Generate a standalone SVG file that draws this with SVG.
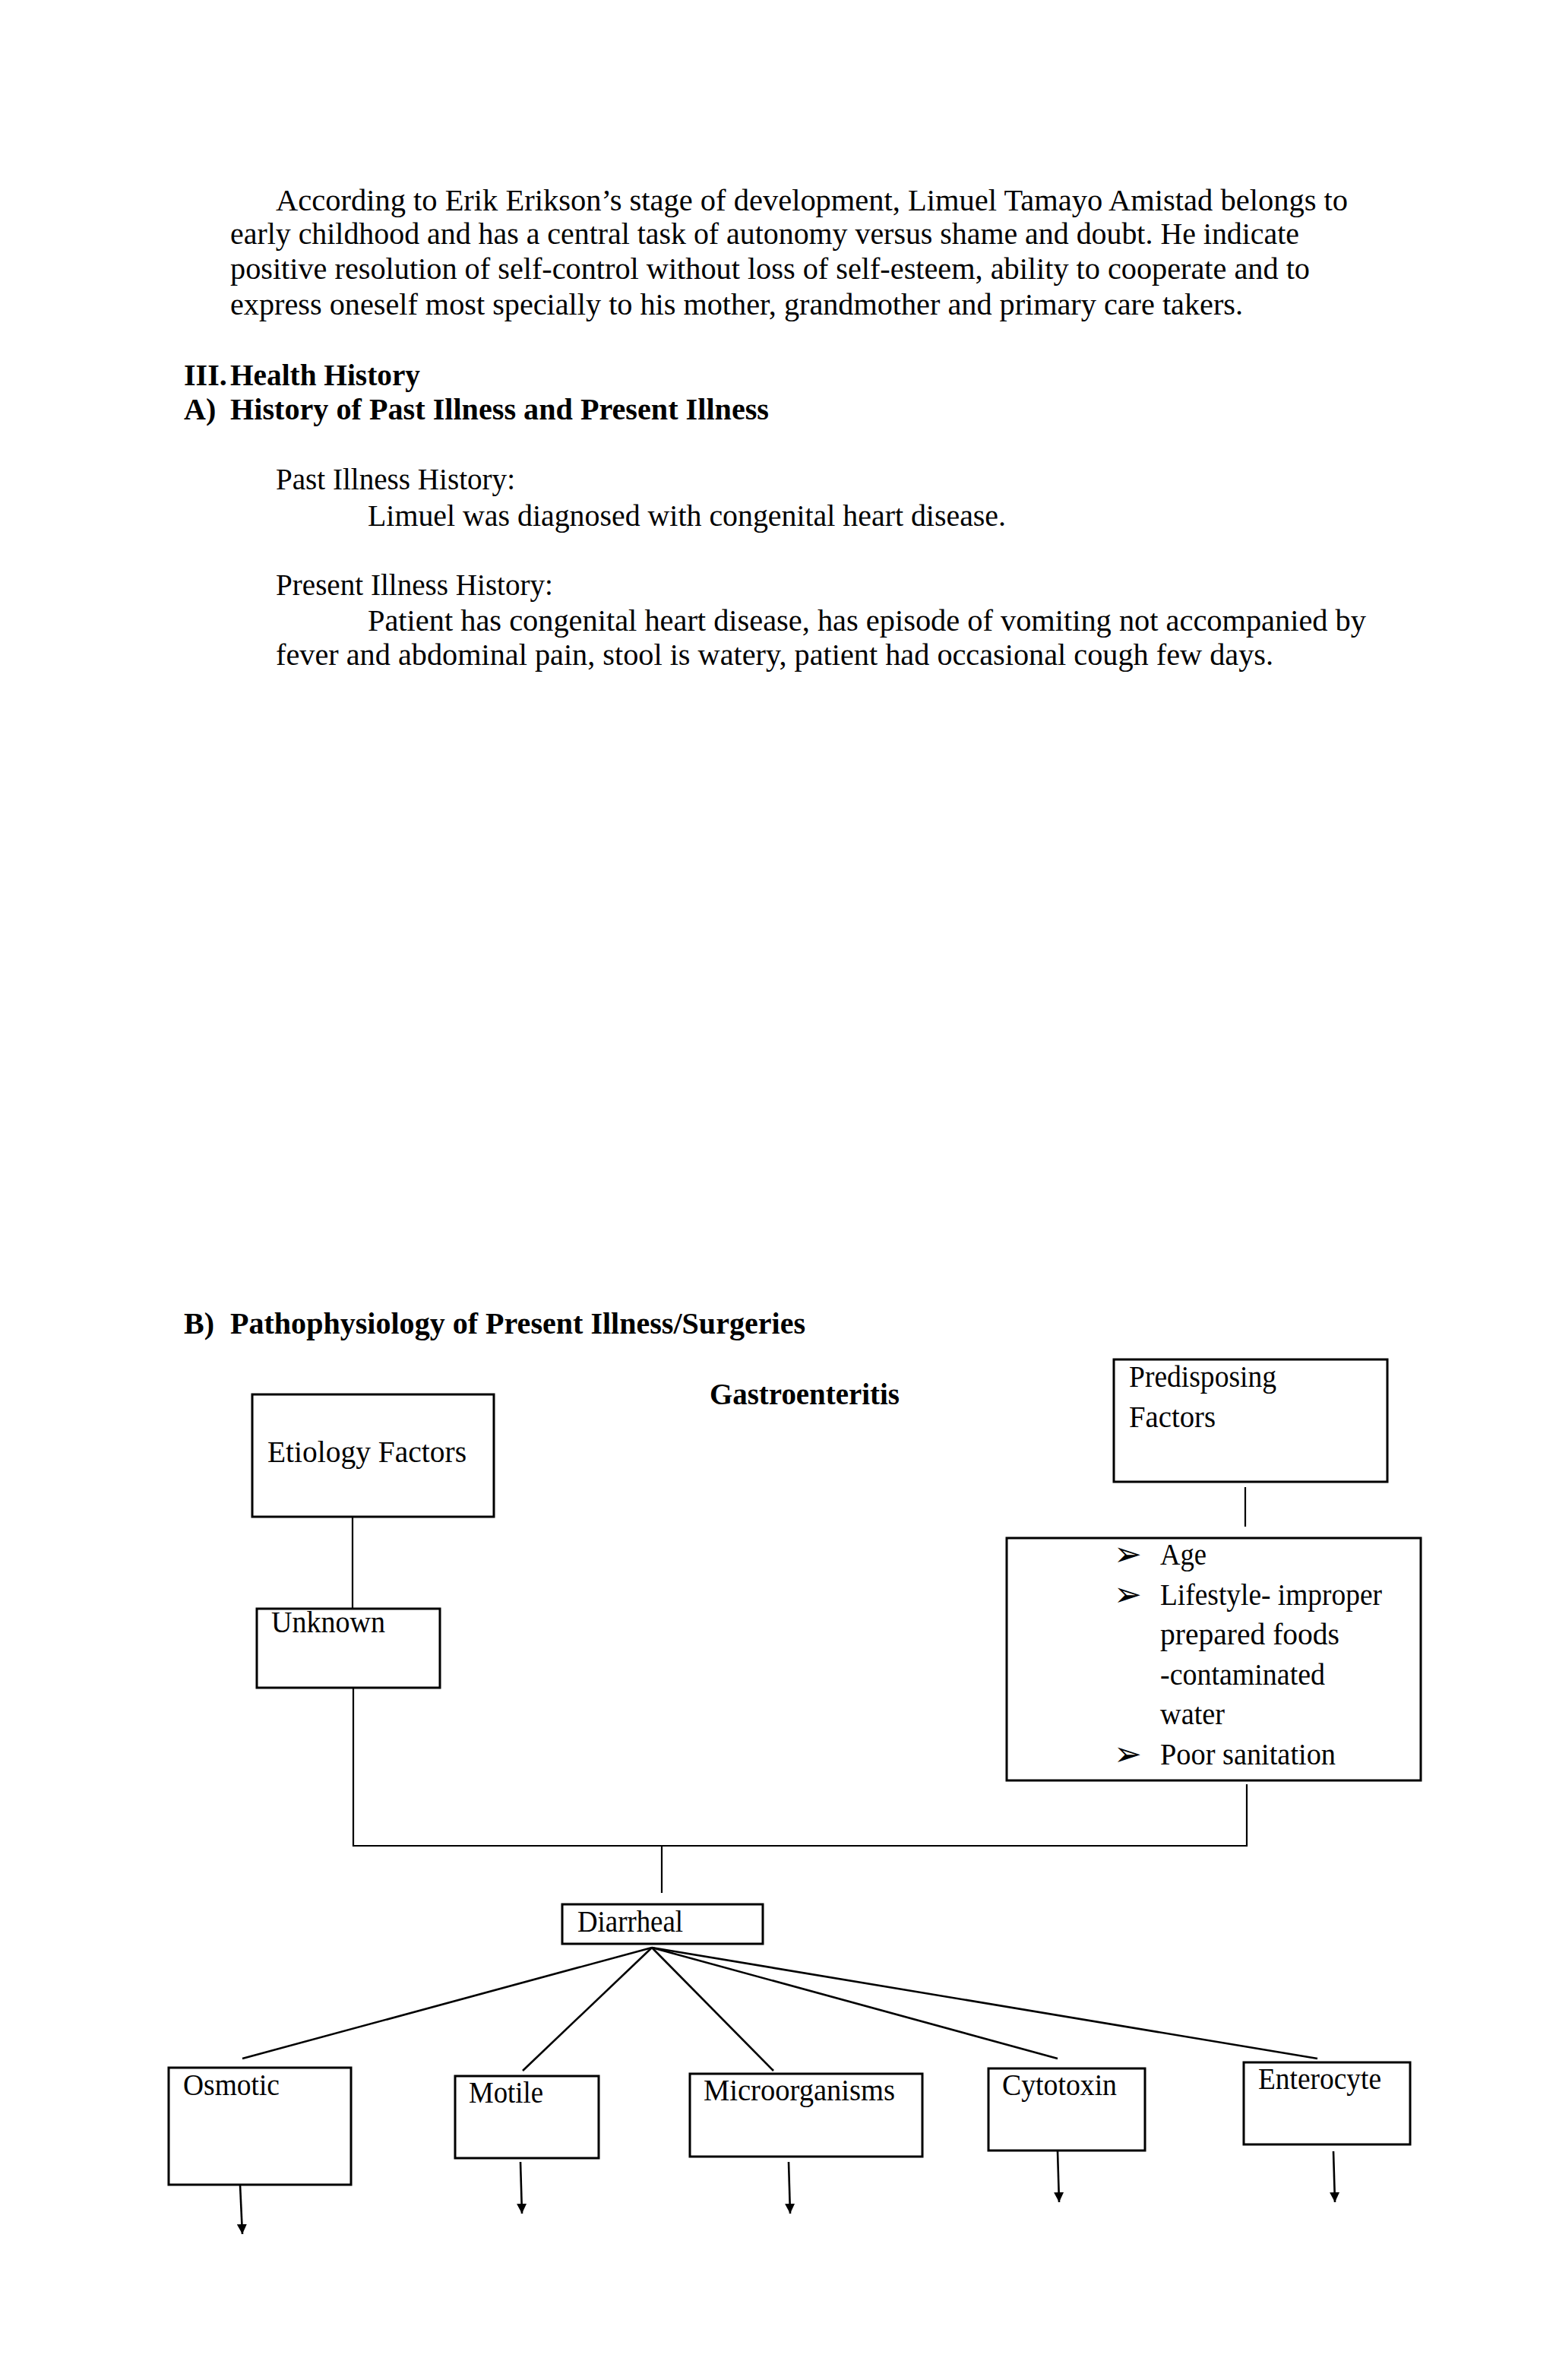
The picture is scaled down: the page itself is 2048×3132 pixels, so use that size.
<svg xmlns="http://www.w3.org/2000/svg" width="2048" height="3132" viewBox="0 0 2048 3132">
<style>
text{font-family:"Liberation Serif","Times New Roman",serif;font-size:40px;fill:#000}
.b{font-weight:bold}
.box{fill:#fff;stroke:#000;stroke-width:3}
.ln{fill:none;stroke:#000;stroke-width:2.2}
.fan{fill:none;stroke:#000;stroke-width:2.6}
.bul{font-family:"DejaVu Sans",sans-serif;font-size:44px}
</style>
<defs>
<marker id="ah" viewBox="0 0 10 10" refX="10" refY="5" markerWidth="13" markerHeight="13" markerUnits="userSpaceOnUse" orient="auto">
<path d="M0 0 L10 5 L0 10 Z" fill="#000"/>
</marker>
</defs>
<rect width="2048" height="3132" fill="#fff"/>

<g id="paragraph">
<text x="363" y="277" textLength="1411" lengthAdjust="spacingAndGlyphs">According to Erik Erikson’s stage of development, Limuel Tamayo Amistad belongs to</text>
<text x="303" y="321" textLength="1407" lengthAdjust="spacingAndGlyphs">early childhood and has a central task of autonomy versus shame and doubt. He indicate</text>
<text x="303" y="367" textLength="1421" lengthAdjust="spacingAndGlyphs">positive resolution of self-control without loss of self-esteem, ability to cooperate and to</text>
<text x="303" y="414" textLength="1333" lengthAdjust="spacingAndGlyphs">express oneself most specially to his mother, grandmother and primary care takers.</text>
</g>

<g id="headings">
<text class="b" x="242" y="507">III.</text>
<text class="b" x="303" y="507" textLength="250" lengthAdjust="spacingAndGlyphs">Health History</text>
<text class="b" x="242" y="552">A)</text>
<text class="b" x="303" y="552" textLength="709" lengthAdjust="spacingAndGlyphs">History of Past Illness and Present Illness</text>
<text x="363" y="644" textLength="315" lengthAdjust="spacingAndGlyphs">Past Illness History:</text>
<text x="484" y="692" textLength="840" lengthAdjust="spacingAndGlyphs">Limuel was diagnosed with congenital heart disease.</text>
<text x="363" y="783" textLength="365" lengthAdjust="spacingAndGlyphs">Present Illness History:</text>
<text x="484" y="830" textLength="1314" lengthAdjust="spacingAndGlyphs">Patient has congenital heart disease, has episode of vomiting not accompanied by</text>
<text x="363" y="875" textLength="1313" lengthAdjust="spacingAndGlyphs">fever and abdominal pain, stool is watery, patient had occasional cough few days.</text>
<text class="b" x="242" y="1755">B)</text>
<text class="b" x="303" y="1755" textLength="757" lengthAdjust="spacingAndGlyphs">Pathophysiology of Present Illness/Surgeries</text>
<text class="b" x="934" y="1848" textLength="250" lengthAdjust="spacingAndGlyphs">Gastroenteritis</text>
</g>

<g id="connectors">
<line class="ln" x1="464" y1="1996" x2="464" y2="2117"/>
<polyline class="ln" points="465,2221 465,2429 1641,2429 1641,2348"/>
<line class="ln" x1="1639" y1="1957" x2="1639" y2="2009"/>
<line class="ln" x1="871" y1="2429" x2="871" y2="2491"/>
<line class="fan" x1="858" y1="2563" x2="319" y2="2709"/>
<line class="fan" x1="858" y1="2563" x2="688" y2="2725"/>
<line class="fan" x1="858" y1="2563" x2="1018" y2="2725"/>
<line class="fan" x1="858" y1="2563" x2="1392" y2="2709"/>
<line class="fan" x1="858" y1="2563" x2="1734" y2="2709"/>
<line class="fan" x1="316" y1="2875" x2="319" y2="2940" marker-end="url(#ah)"/>
<line class="fan" x1="685" y1="2845" x2="687" y2="2913" marker-end="url(#ah)"/>
<line class="fan" x1="1038" y1="2845" x2="1040" y2="2913" marker-end="url(#ah)"/>
<line class="fan" x1="1392" y1="2831" x2="1394" y2="2898" marker-end="url(#ah)"/>
<line class="fan" x1="1755" y1="2831" x2="1757" y2="2898" marker-end="url(#ah)"/>
</g>

<g id="etiology">
<rect class="box" x="332" y="1835" width="318" height="161"/>
<text x="352" y="1924" textLength="262" lengthAdjust="spacingAndGlyphs">Etiology Factors</text>
</g>
<g id="unknown">
<rect class="box" x="338" y="2117" width="241" height="104"/>
<text x="357" y="2148" textLength="150" lengthAdjust="spacingAndGlyphs">Unknown</text>
</g>
<g id="predisposing">
<rect class="box" x="1466" y="1789" width="360" height="161"/>
<text x="1486" y="1825" textLength="194" lengthAdjust="spacingAndGlyphs">Predisposing</text>
<text x="1486" y="1878" textLength="114" lengthAdjust="spacingAndGlyphs">Factors</text>
</g>
<g id="factors-list">
<rect class="box" x="1325" y="2024" width="545" height="319"/>
<text class="bul" x="1466" y="2060">➢</text>
<text x="1527" y="2059" textLength="61" lengthAdjust="spacingAndGlyphs">Age</text>
<text class="bul" x="1466" y="2113">➢</text>
<text x="1527" y="2112" textLength="292" lengthAdjust="spacingAndGlyphs">Lifestyle- improper</text>
<text x="1527" y="2164" textLength="236" lengthAdjust="spacingAndGlyphs">prepared foods</text>
<text x="1527" y="2217" textLength="217" lengthAdjust="spacingAndGlyphs">-contaminated</text>
<text x="1527" y="2269" textLength="85" lengthAdjust="spacingAndGlyphs">water</text>
<text class="bul" x="1466" y="2323">➢</text>
<text x="1527" y="2322" textLength="231" lengthAdjust="spacingAndGlyphs">Poor sanitation</text>
</g>
<g id="diarrheal">
<rect class="box" x="740" y="2506" width="264" height="52"/>
<text x="760" y="2542" textLength="139" lengthAdjust="spacingAndGlyphs">Diarrheal</text>
</g>
<g id="osmotic">
<rect class="box" x="222" y="2721" width="240" height="154"/>
<text x="241" y="2757" textLength="127" lengthAdjust="spacingAndGlyphs">Osmotic</text>
</g>
<g id="motile">
<rect class="box" x="599" y="2732" width="189" height="108"/>
<text x="617" y="2767" textLength="98" lengthAdjust="spacingAndGlyphs">Motile</text>
</g>
<g id="microorganisms">
<rect class="box" x="908" y="2729" width="306" height="109"/>
<text x="926" y="2764" textLength="252" lengthAdjust="spacingAndGlyphs">Microorganisms</text>
</g>
<g id="cytotoxin">
<rect class="box" x="1301" y="2722" width="206" height="108"/>
<text x="1319" y="2757" textLength="151" lengthAdjust="spacingAndGlyphs">Cytotoxin</text>
</g>
<g id="enterocyte">
<rect class="box" x="1637" y="2714" width="219" height="108"/>
<text x="1656" y="2749" textLength="162" lengthAdjust="spacingAndGlyphs">Enterocyte</text>
</g>
</svg>
